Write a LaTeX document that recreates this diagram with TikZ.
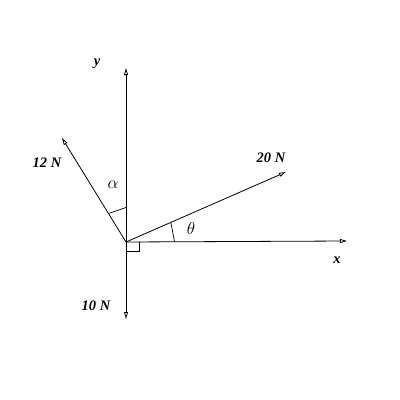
\documentclass[tikz,border=0pt]{standalone}
\usepackage{fontspec}
\setmainfont{Liberation Serif}
\usetikzlibrary{arrows.meta}
\begin{document}
\begin{tikzpicture}[x=1pt,y=-1pt,
  vec/.style={line width=0.8pt,-{Triangle[open,length=7pt,width=4pt]}},
  anglemark/.style={line width=0.7pt},
  lbl/.style={font=\fontsize{14.5}{16}\selectfont\bfseries\itshape,inner sep=0pt},
  glbl/.style={font=\fontsize{19}{21}\selectfont,inner sep=0pt}]
\useasboundingbox (0,0) rectangle (400,400);
\coordinate (O) at (126,242);
\coordinate (Y) at (126,68);
\coordinate (X) at (347,241);
\coordinate (F12) at (62,138);
\coordinate (F20) at (286,172);
\coordinate (F10) at (126,319);
\draw[vec] (O) -- (Y);
\draw[vec] (O) -- (X);
\draw[vec] (O) -- (F12);
\draw[vec] (O) -- (F20);
\draw[vec] (O) -- (F10);
\coordinate (a1) at (108.5,213.5);
\coordinate (a2) at (126,207.5);
\draw[anglemark] (a1) -- (a2);
\coordinate (t1) at (171,223);
\coordinate (t2) at (174.5,241.7);
\draw[anglemark] (t1) -- (t2);
\coordinate (s1) at (126,251);
\coordinate (s2) at (139,251);
\coordinate (s3) at (139,242);
\draw[anglemark] (s1) -- (s2) -- (s3);
\node[lbl] (ly) at (97,64) {y};
\node[lbl] (lx) at (337,260) {x};
\node[lbl] (l12) at (47,163) {12 N};
\node[lbl] (l20) at (271,158) {20 N};
\node[lbl] (l10) at (96,306) {10 N};
\node[glbl] (la) at (113,185) {$\alpha$};
\node[glbl] (lt) at (191,228) {$\theta$};
\end{tikzpicture}
\end{document}
